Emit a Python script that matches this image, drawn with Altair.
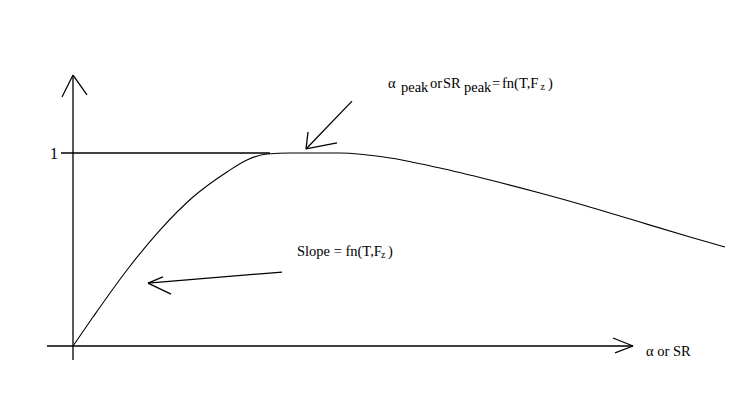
import altair as alt
import pandas as pd

# Curve (x: slip angle / slip ratio in arbitrary units, y: normalised force)
curve_x = [0.00, 0.20, 0.54, 0.87, 1.20, 1.54, 1.74, 1.94, 2.17, 2.67, 3.17, 3.67, 4.17, 4.67, 5.10, 5.67, 6.17, 6.52]
curve_y = [0.000, 0.150, 0.394, 0.601, 0.772, 0.902, 0.964, 0.995, 1.000, 1.000, 0.974, 0.922, 0.860, 0.793, 0.731, 0.642, 0.565, 0.513]

# Axis lines, arrow heads, the "1" guide line and annotation arrows (data units)
seg_x  = [-0.26, 5.40, 5.42, 0.00, -0.11, 0.14, -0.12, 2.79, 2.35, 2.64, 2.09, 0.90, 0.98]
seg_y  = [0.000, 0.0415, -0.036, -0.0725, 1.290, 1.301, 1.000, 1.269, 1.109, 1.052, 0.383, 0.358, 0.269]
seg_x2 = [5.60, 5.60, 5.60, 0.00, 0.00, 0.00, 1.97, 2.33, 2.33, 2.33, 0.75, 0.75, 0.75]
seg_y2 = [0.000, 0.000, 0.000, 1.404, 1.404, 1.404, 1.000, 1.021, 1.021, 1.021, 0.326, 0.326, 0.326]

# Text pieces (main size)
txt = ["α", "peak", "or", "SR", "peak", "=", "fn(T,F", ")",
       "Slope = fn(T,F", ")", "α or SR"]
txt_x = [3.15, 3.28, 3.57, 3.70, 3.91, 4.19, 4.29, 4.75,
         2.24, 3.15, 5.73]
txt_y = [1.337, 1.316, 1.337, 1.337, 1.316, 1.337, 1.337, 1.337,
         0.466, 0.466, -0.052]

# Small subscript "z"
sub = ["z", "z"]
sub_x = [4.675, 3.08]
sub_y = [1.326, 0.456]

tick_label = ["1"]
tick_x = [-0.19]
tick_y = [0.969]

X_DOM = [-0.65, 6.63]
Y_DOM = [-0.2953, 1.7513]
FONT = "Liberation Serif"

xs = alt.Scale(domain=X_DOM, nice=False, zero=False)
ys = alt.Scale(domain=Y_DOM, nice=False, zero=False)

curve_df = pd.DataFrame({"x": curve_x, "y": curve_y})
seg_df = pd.DataFrame({"x": seg_x, "y": seg_y, "x2": seg_x2, "y2": seg_y2})
txt_df = pd.DataFrame({"t": txt, "x": txt_x, "y": txt_y})
sub_df = pd.DataFrame({"t": sub, "x": sub_x, "y": sub_y})
tick_df = pd.DataFrame({"t": tick_label, "x": tick_x, "y": tick_y})

curve = alt.Chart(curve_df).mark_line(color="black", strokeWidth=1.1, interpolate="monotone").encode(
    x=alt.X("x:Q", scale=xs, axis=None),
    y=alt.Y("y:Q", scale=ys, axis=None),
)

segs = alt.Chart(seg_df).mark_rule(color="black", strokeWidth=1.3).encode(
    x=alt.X("x:Q", scale=xs, axis=None),
    y=alt.Y("y:Q", scale=ys, axis=None),
    x2="x2:Q",
    y2="y2:Q",
)

texts = alt.Chart(txt_df).mark_text(font=FONT, fontSize=14.5, align="left", baseline="alphabetic", color="black").encode(
    x=alt.X("x:Q", scale=xs, axis=None),
    y=alt.Y("y:Q", scale=ys, axis=None),
    text="t:N",
)

subs = alt.Chart(sub_df).mark_text(font=FONT, fontSize=10, align="left", baseline="alphabetic", color="black").encode(
    x=alt.X("x:Q", scale=xs, axis=None),
    y=alt.Y("y:Q", scale=ys, axis=None),
    text="t:N",
)

ticks = alt.Chart(tick_df).mark_text(font=FONT, fontSize=16, align="center", baseline="alphabetic", color="black").encode(
    x=alt.X("x:Q", scale=xs, axis=None),
    y=alt.Y("y:Q", scale=ys, axis=None),
    text="t:N",
)

chart = alt.layer(curve, segs, texts, subs, ticks).properties(
    width=728, height=395, padding=0, autosize="none", background="white"
).configure_view(stroke=None)

chart.save("out.html", embed_options={"renderer": "svg", "actions": False})
